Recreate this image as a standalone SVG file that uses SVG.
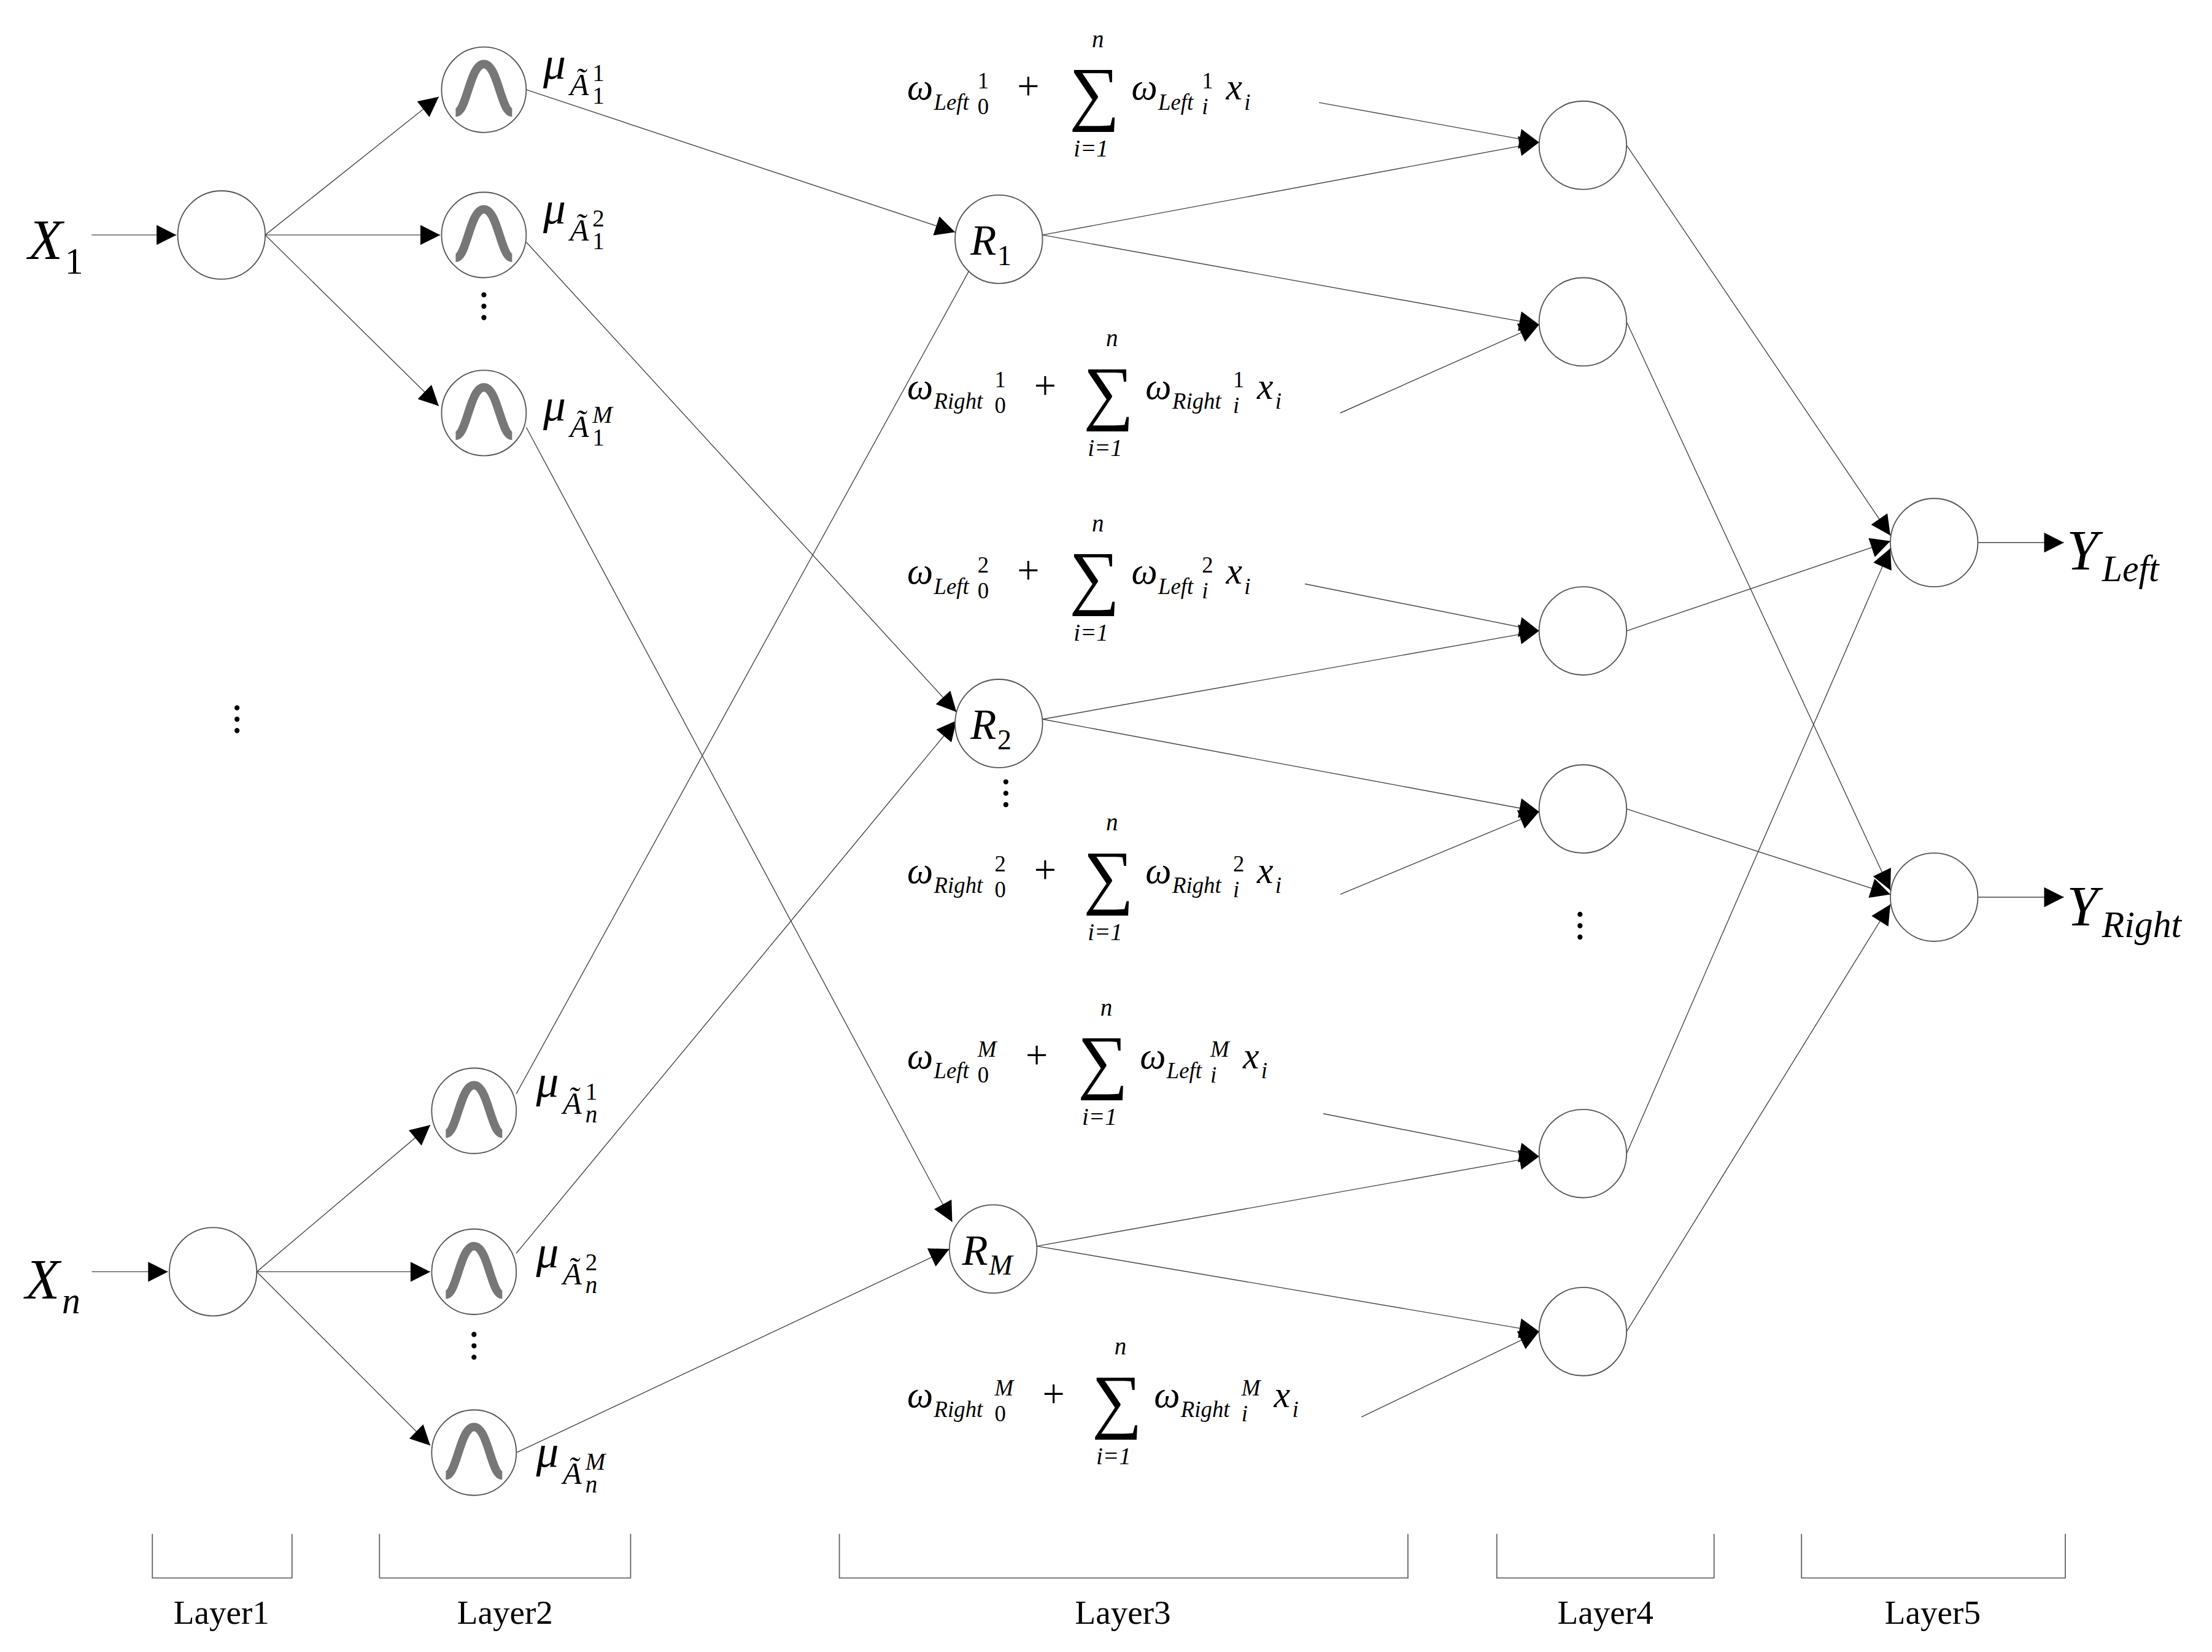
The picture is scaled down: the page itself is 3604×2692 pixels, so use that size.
<svg xmlns="http://www.w3.org/2000/svg" width="3604" height="2692" viewBox="0 0 3604 2692">
<style>
.n{fill:#fff;stroke:#555;stroke-width:0.8}
.c{stroke:#444;stroke-width:0.6;fill:none}
.t{font-family:"Liberation Serif",serif;fill:#000}
.m{font-family:"Liberation Serif",serif;font-style:italic;fill:#000}
.br{stroke:#666;stroke-width:0.8;fill:none}
</style>
<defs>
<marker id="a" viewBox="0 0 10 10" refX="10" refY="5" markerWidth="18" markerHeight="14" markerUnits="userSpaceOnUse" orient="auto"><path d="M0,0 L10,5 L0,10 z" fill="#000"/></marker>
<g id="g"><path d="M-20,16 C-12,16 -10,-18 0,-18 C10,-18 12,16 20,16" fill="none" stroke="#777" stroke-width="6"/></g>
<g id="dots"><circle cx="0" cy="-8" r="1.8"/><circle cx="0" cy="0" r="1.8"/><circle cx="0" cy="8" r="1.8"/></g>
</defs>
<rect width="3604" height="2692" fill="#fff"/>
<g transform="scale(2.2985,2.3207)">
<g id="connectors">
<path class="c" marker-end="url(#a)" d="M65,165 L125,165"/>
<path class="c" marker-end="url(#a)" d="M65,893 L119,893"/>
<path class="c" marker-end="url(#a)" d="M188,165 L311,68"/>
<path class="c" marker-end="url(#a)" d="M188,165 L312,165"/>
<path class="c" marker-end="url(#a)" d="M188,165 L311,285"/>
<path class="c" marker-end="url(#a)" d="M182,893 L305,790"/>
<path class="c" marker-end="url(#a)" d="M182,893 L305,893"/>
<path class="c" marker-end="url(#a)" d="M182,893 L305,1015"/>
<path class="c" marker-end="url(#a)" d="M373,63 L677,163"/>
<path class="c" marker-end="url(#a)" d="M373,170 L678,500"/>
<path class="c" marker-end="url(#a)" d="M373,300 L675,858"/>
<path class="c" marker-end="url(#a)" d="M366,768 L697,172"/>
<path class="c" marker-end="url(#a)" d="M366,880 L678,506"/>
<path class="c" marker-end="url(#a)" d="M366,1020 L673,877"/>
<path class="c" marker-end="url(#a)" d="M739,165 L1091,100"/>
<path class="c" marker-end="url(#a)" d="M739,165 L1091,228"/>
<path class="c" marker-end="url(#a)" d="M935,72 L1091,100"/>
<path class="c" marker-end="url(#a)" d="M950,290 L1091,228"/>
<path class="c" marker-end="url(#a)" d="M739,505 L1091,443"/>
<path class="c" marker-end="url(#a)" d="M739,505 L1091,570"/>
<path class="c" marker-end="url(#a)" d="M925,410 L1091,443"/>
<path class="c" marker-end="url(#a)" d="M950,628 L1091,570"/>
<path class="c" marker-end="url(#a)" d="M735,875 L1091,812"/>
<path class="c" marker-end="url(#a)" d="M735,875 L1091,935"/>
<path class="c" marker-end="url(#a)" d="M938,782 L1091,812"/>
<path class="c" marker-end="url(#a)" d="M965,995 L1091,935"/>
<path class="c" marker-end="url(#a)" d="M1153,102 L1340,376"/>
<path class="c" marker-end="url(#a)" d="M1153,226 L1340,625"/>
<path class="c" marker-end="url(#a)" d="M1153,443 L1340,380"/>
<path class="c" marker-end="url(#a)" d="M1153,568 L1340,628"/>
<path class="c" marker-end="url(#a)" d="M1153,810 L1340,385"/>
<path class="c" marker-end="url(#a)" d="M1153,935 L1340,635"/>
<path class="c" marker-end="url(#a)" d="M1402,381 L1463,381"/>
<path class="c" marker-end="url(#a)" d="M1402,630 L1463,630"/>
</g>
<g id="L1a"><circle class="n" cx="157" cy="165" r="31"/></g>
<g id="L1b"><circle class="n" cx="151" cy="893" r="31"/></g>
<g id="L2a"><circle class="n" cx="343" cy="63" r="30"/><use href="#g" x="343" y="63"/></g>
<g id="L2b"><circle class="n" cx="343" cy="165" r="30"/><use href="#g" x="343" y="165"/></g>
<g id="L2c"><circle class="n" cx="343" cy="290" r="30"/><use href="#g" x="343" y="290"/></g>
<g id="L2d"><circle class="n" cx="336" cy="780" r="30"/><use href="#g" x="336" y="780"/></g>
<g id="L2e"><circle class="n" cx="336" cy="893" r="30"/><use href="#g" x="336" y="893"/></g>
<g id="L2f"><circle class="n" cx="336" cy="1020" r="30"/><use href="#g" x="336" y="1020"/></g>
<g id="R1"><circle class="n" cx="708" cy="168" r="31"/><text class="m" x="688" y="179" font-size="30">R</text><text class="t" x="707" y="186" font-size="20">1</text></g>
<g id="R2"><circle class="n" cx="708" cy="508" r="31"/><text class="m" x="688" y="519" font-size="30">R</text><text class="t" x="707" y="526" font-size="20">2</text></g>
<g id="RM"><circle class="n" cx="704" cy="877" r="31"/><text class="m" x="682" y="888" font-size="30">R</text><text class="m" x="701" y="895" font-size="20">M</text></g>
<g id="L4"><circle class="n" cx="1122" cy="102" r="31"/><circle class="n" cx="1122" cy="226" r="31"/><circle class="n" cx="1122" cy="443" r="31"/><circle class="n" cx="1122" cy="568" r="31"/><circle class="n" cx="1122" cy="810" r="31"/><circle class="n" cx="1122" cy="935" r="31"/></g>
<g id="L5"><circle class="n" cx="1371" cy="381" r="31"/><circle class="n" cx="1371" cy="630" r="31"/></g>
<g id="dotsg"><use href="#dots" x="343" y="215"/><use href="#dots" x="336" y="945"/><use href="#dots" x="168" y="505"/><use href="#dots" x="713" y="557"/><use href="#dots" x="1120" y="650"/></g>
<g id="io">
<text class="m" x="20" y="182" font-size="40">X</text><text class="t" x="46" y="192" font-size="26">1</text>
<text class="m" x="18" y="912" font-size="40">X</text><text class="m" x="44" y="922" font-size="26">n</text>
<text class="m" x="1465" y="400" font-size="40">Y</text><text class="m" x="1490" y="408" font-size="26">Left</text>
<text class="m" x="1465" y="650" font-size="40">Y</text><text class="m" x="1490" y="658" font-size="26">Right</text>
</g>
<g id="mu">
<g transform="translate(385,55)"><text class="m" font-size="32">μ</text><text class="m" x="19" y="12" font-size="22">Ã</text><text class="t" x="35" y="2" font-size="17">1</text><text class="t" x="35" y="18" font-size="17">1</text></g>
<g transform="translate(385,157)"><text class="m" font-size="32">μ</text><text class="m" x="19" y="12" font-size="22">Ã</text><text class="t" x="35" y="2" font-size="17">2</text><text class="t" x="35" y="18" font-size="17">1</text></g>
<g transform="translate(385,295)"><text class="m" font-size="32">μ</text><text class="m" x="19" y="12" font-size="22">Ã</text><text class="m" x="35" y="2" font-size="17">M</text><text class="t" x="35" y="18" font-size="17">1</text></g>
<g transform="translate(380,770)"><text class="m" font-size="32">μ</text><text class="m" x="19" y="12" font-size="22">Ã</text><text class="t" x="35" y="2" font-size="17">1</text><text class="m" x="35" y="18" font-size="17">n</text></g>
<g transform="translate(380,890)"><text class="m" font-size="32">μ</text><text class="m" x="19" y="12" font-size="22">Ã</text><text class="t" x="35" y="2" font-size="17">2</text><text class="m" x="35" y="18" font-size="17">n</text></g>
<g transform="translate(380,1030)"><text class="m" font-size="32">μ</text><text class="m" x="19" y="12" font-size="22">Ã</text><text class="m" x="35" y="2" font-size="17">M</text><text class="m" x="35" y="18" font-size="17">n</text></g>
</g>
<g id="formulas">
<g transform="translate(643,70)"><text class="m" font-size="26">ω</text><text class="m" x="19" y="7" font-size="16">Left</text><text class="t" x="50" y="-8" font-size="16">1</text><text class="t" x="50" y="10" font-size="16">0</text><text class="t" x="78" y="0" font-size="28">+</text><text class="t" x="115" y="12" font-size="50">∑</text><text class="m" x="131" y="-37" font-size="17">n</text><text class="m" x="118" y="40" font-size="17">i=1</text><text class="m" x="159" font-size="26">ω</text><text class="m" x="178" y="7" font-size="16">Left</text><text class="t" x="209" y="-8" font-size="16">1</text><text class="m" x="209" y="10" font-size="16">i</text><text class="m" x="226" font-size="26">x</text><text class="m" x="239" y="7" font-size="16">i</text></g>
<g transform="translate(643,280)"><text class="m" font-size="26">ω</text><text class="m" x="19" y="7" font-size="16">Right</text><text class="t" x="62" y="-8" font-size="16">1</text><text class="t" x="62" y="10" font-size="16">0</text><text class="t" x="90" y="0" font-size="28">+</text><text class="t" x="125" y="12" font-size="50">∑</text><text class="m" x="141" y="-37" font-size="17">n</text><text class="m" x="128" y="40" font-size="17">i=1</text><text class="m" x="169" font-size="26">ω</text><text class="m" x="188" y="7" font-size="16">Right</text><text class="t" x="231" y="-8" font-size="16">1</text><text class="m" x="231" y="10" font-size="16">i</text><text class="m" x="248" font-size="26">x</text><text class="m" x="261" y="7" font-size="16">i</text></g>
<g transform="translate(643,410)"><text class="m" font-size="26">ω</text><text class="m" x="19" y="7" font-size="16">Left</text><text class="t" x="50" y="-8" font-size="16">2</text><text class="t" x="50" y="10" font-size="16">0</text><text class="t" x="78" y="0" font-size="28">+</text><text class="t" x="115" y="12" font-size="50">∑</text><text class="m" x="131" y="-37" font-size="17">n</text><text class="m" x="118" y="40" font-size="17">i=1</text><text class="m" x="159" font-size="26">ω</text><text class="m" x="178" y="7" font-size="16">Left</text><text class="t" x="209" y="-8" font-size="16">2</text><text class="m" x="209" y="10" font-size="16">i</text><text class="m" x="226" font-size="26">x</text><text class="m" x="239" y="7" font-size="16">i</text></g>
<g transform="translate(643,620)"><text class="m" font-size="26">ω</text><text class="m" x="19" y="7" font-size="16">Right</text><text class="t" x="62" y="-8" font-size="16">2</text><text class="t" x="62" y="10" font-size="16">0</text><text class="t" x="90" y="0" font-size="28">+</text><text class="t" x="125" y="12" font-size="50">∑</text><text class="m" x="141" y="-37" font-size="17">n</text><text class="m" x="128" y="40" font-size="17">i=1</text><text class="m" x="169" font-size="26">ω</text><text class="m" x="188" y="7" font-size="16">Right</text><text class="t" x="231" y="-8" font-size="16">2</text><text class="m" x="231" y="10" font-size="16">i</text><text class="m" x="248" font-size="26">x</text><text class="m" x="261" y="7" font-size="16">i</text></g>
<g transform="translate(643,750)"><text class="m" font-size="26">ω</text><text class="m" x="19" y="7" font-size="16">Left</text><text class="m" x="50" y="-8" font-size="16">M</text><text class="t" x="50" y="10" font-size="16">0</text><text class="t" x="84" y="0" font-size="28">+</text><text class="t" x="121" y="12" font-size="50">∑</text><text class="m" x="137" y="-37" font-size="17">n</text><text class="m" x="124" y="40" font-size="17">i=1</text><text class="m" x="165" font-size="26">ω</text><text class="m" x="184" y="7" font-size="16">Left</text><text class="m" x="215" y="-8" font-size="16">M</text><text class="m" x="215" y="10" font-size="16">i</text><text class="m" x="238" font-size="26">x</text><text class="m" x="251" y="7" font-size="16">i</text></g>
<g transform="translate(643,988)"><text class="m" font-size="26">ω</text><text class="m" x="19" y="7" font-size="16">Right</text><text class="m" x="62" y="-8" font-size="16">M</text><text class="t" x="62" y="10" font-size="16">0</text><text class="t" x="96" y="0" font-size="28">+</text><text class="t" x="131" y="12" font-size="50">∑</text><text class="m" x="147" y="-37" font-size="17">n</text><text class="m" x="134" y="40" font-size="17">i=1</text><text class="m" x="175" font-size="26">ω</text><text class="m" x="194" y="7" font-size="16">Right</text><text class="m" x="237" y="-8" font-size="16">M</text><text class="m" x="237" y="10" font-size="16">i</text><text class="m" x="260" font-size="26">x</text><text class="m" x="273" y="7" font-size="16">i</text></g>
</g>
<g id="layers">
<path class="br" d="M108,1077 V1108 H207 V1077"/><path class="br" d="M269,1077 V1108 H447 V1077"/><path class="br" d="M595,1077 V1108 H998 V1077"/><path class="br" d="M1061,1077 V1108 H1215 V1077"/><path class="br" d="M1277,1077 V1108 H1464 V1077"/>
<text class="t" x="157" y="1140" font-size="24" text-anchor="middle">Layer1</text>
<text class="t" x="358" y="1140" font-size="24" text-anchor="middle">Layer2</text>
<text class="t" x="796" y="1140" font-size="24" text-anchor="middle">Layer3</text>
<text class="t" x="1138" y="1140" font-size="24" text-anchor="middle">Layer4</text>
<text class="t" x="1370" y="1140" font-size="24" text-anchor="middle">Layer5</text>
</g>
</g>
</svg>
